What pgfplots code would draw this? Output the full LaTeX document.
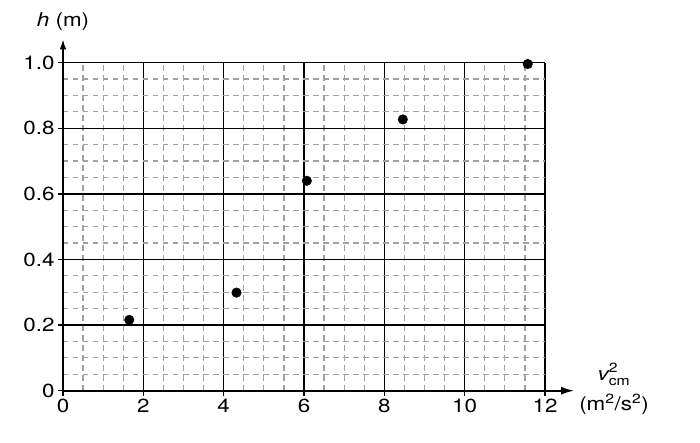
\documentclass[border=0pt]{standalone}
\usepackage{fontspec}
\setmainfont{TeX Gyre Heros}[FakeStretch=1.18]
\usepackage{amsmath}
\usepackage{pgfplots}
\pgfplotsset{compat=1.18}
\usetikzlibrary{arrows.meta}
\definecolor{gridgrey}{RGB}{160,160,160}
\begin{document}
\begin{tikzpicture}[font=\fontsize{19bp}{23bp}\selectfont]
\path[use as bounding box] (-63bp,-52.3bp) rectangle (637bp,390.7bp);
\begin{axis}[
  scale only axis, width=482bp, height=328bp,
  xmin=0, xmax=12, ymin=0, ymax=1,
  clip=false,
  axis lines=left,
  x axis line style={-{Latex[length=13bp,width=8bp]}, line width=1.6bp, shorten >=-29bp},
  y axis line style={-{Latex[length=10bp,width=6.5bp]}, line width=1.5bp, shorten >=-23.4bp},
  xtick={0,2,4,6,8,10,12},
  xticklabels={0,2,4,6,8,10,12},
  ytick={0,0.2,0.4,0.6,0.8,1},
  yticklabels={0,0.2,0.4,0.6,0.8,1.0},
  minor x tick num=3, minor y tick num=3,
  tick align=outside,
  major tick length=5bp, minor tick length=0pt,
  tick style={black, line width=1.4bp},
  grid=both,
  major grid style={black, line width=1.5bp},
  minor grid style={gridgrey, line width=1.2bp, dash pattern=on 5.5bp off 4.5bp},
  ylabel={\textit{h} (m)},
  ylabel style={rotate=-90, at={(axis description cs:0,1)}, anchor=base, yshift=36bp},
]
  \addplot[only marks, mark=*, mark size=4.8bp, black]
    coordinates {(1.65,0.216)(4.32,0.299)(6.07,0.640)(8.46,0.827)(11.57,0.996)};
  \node[anchor=base] at (rel axis cs:1,0) [xshift=69bp, yshift=10.7bp]
    {$\textit{v}^{\text{2}}_{\text{cm}}$};
  \node[anchor=base] at (rel axis cs:1,0) [xshift=69bp, yshift=-20bp]
    {(m\textsuperscript{2}/s\textsuperscript{2})};
\end{axis}
\end{tikzpicture}
\end{document}
